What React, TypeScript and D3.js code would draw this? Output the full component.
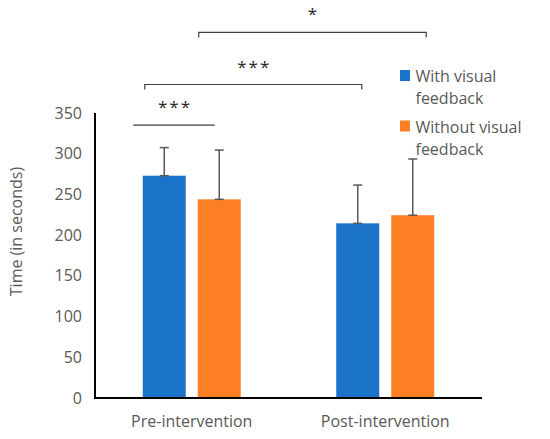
import React, { useRef, useEffect } from 'react';
import * as d3 from 'd3';

const categories = ['Pre-intervention', 'Post-intervention'];
const seriesNames = ['With visual feedback', 'Without visual feedback'];
const seriesLabels = [['With visual', 'feedback'], ['Without visual', 'feedback']];
const withFeedback = [273, 214.5];
const withoutFeedback = [244, 224.5];
const withFeedbackErr = [34.5, 47];
const withoutFeedbackErr = [60.5, 69];
const yTicks = [0, 50, 100, 150, 200, 250, 300, 350];
const colors = ['#1a73c9', '#fd7f23'];

// significance comparisons between [category, series] bars
const comparisons = [
  { from: [0, 0], to: [0, 1], label: '***', level: 335, ticks: false },
  { from: [0, 0], to: [1, 0], label: '***', level: 385, ticks: true },
  { from: [0, 1], to: [1, 1], label: '*', level: 449, ticks: true },
];

const App: React.FC = () => {
  const svgRef = useRef<SVGSVGElement>(null);

  useEffect(() => {
    const svg = d3.select(svgRef.current);
    svg.selectAll('*').remove();
    const font = "'Open Sans', sans-serif";
    const textColor = '#595959';

    const x0 = d3.scaleBand().domain(categories).range([95, 482]).paddingInner(0).paddingOuter(0);
    const y = d3.scaleLinear().domain([0, 350]).range([398, 113]);
    const barW = 43;
    const gap = 12;
    const barX = (ci: number, si: number) =>
      (x0(categories[ci]) as number) + x0.bandwidth() / 2 - gap / 2 - barW + si * (barW + gap);

    const values = [withFeedback, withoutFeedback];
    const errs = [withFeedbackErr, withoutFeedbackErr];

    // bars
    values.forEach((vals, si) => {
      svg.append('g')
        .selectAll('rect')
        .data(vals)
        .join('rect')
        .attr('x', (d, ci) => barX(ci, si))
        .attr('y', (d) => y(d))
        .attr('width', barW)
        .attr('height', (d) => y(0) - y(d))
        .attr('fill', colors[si]);
    });

    // error bars
    values.forEach((vals, si) => {
      vals.forEach((v, ci) => {
        const cx = barX(ci, si) + barW / 2;
        const top = y(v + errs[si][ci]);
        const g = svg.append('g').attr('stroke', '#595959').attr('stroke-width', 1.5);
        g.append('line').attr('x1', cx).attr('x2', cx).attr('y1', y(v)).attr('y2', top);
        g.append('line').attr('x1', cx - 4.5).attr('x2', cx + 4.5).attr('y1', top).attr('y2', top);
        g.append('line').attr('x1', cx - 4.5).attr('x2', cx + 4.5).attr('y1', y(v)).attr('y2', y(v));
      });
    });

    // axes
    svg.append('line').attr('x1', 95).attr('x2', 95).attr('y1', y(350)).attr('y2', y(0))
      .attr('stroke', '#000').attr('stroke-width', 2);
    svg.append('line').attr('x1', 94).attr('x2', 482).attr('y1', y(0)).attr('y2', y(0))
      .attr('stroke', '#000').attr('stroke-width', 2);

    svg.append('g')
      .selectAll('text')
      .data(yTicks)
      .join('text')
      .attr('x', 82)
      .attr('y', (d) => y(d))
      .attr('dy', '0.35em')
      .attr('text-anchor', 'end')
      .attr('font-family', font)
      .attr('font-size', 16)
      .attr('fill', textColor)
      .text((d) => d);

    svg.append('g')
      .selectAll('text')
      .data(categories)
      .join('text')
      .attr('x', (d) => (x0(d) as number) + x0.bandwidth() / 2)
      .attr('y', 427)
      .attr('text-anchor', 'middle')
      .attr('font-family', font)
      .attr('font-size', 16)
      .attr('fill', textColor)
      .text((d) => d);

    svg.append('text')
      .attr('transform', `translate(22,${(y(350) + y(0)) / 2 - 24}) rotate(-90)`)
      .attr('text-anchor', 'middle')
      .attr('font-family', font)
      .attr('font-size', 16)
      .attr('fill', textColor)
      .text('Time (in seconds)');

    // significance brackets
    const ends = [
      [-9.5, 17],
      [2, barW / 2 + 4],
      [1, barW - 8],
    ];
    comparisons.forEach((c, i) => {
      const xa = barX(c.from[0], c.from[1]) + ends[i][0];
      const xb = barX(c.to[0], c.to[1]) + ends[i][1];
      const ly = y(c.level);
      const path = c.ticks
        ? `M${xa},${ly + 5}V${ly}H${xb}V${ly + 5}`
        : `M${xa},${ly}H${xb}`;
      svg.append('path').attr('d', path).attr('fill', 'none')
        .attr('stroke', '#404040').attr('stroke-width', 1.2);
      svg.append('text')
        .attr('x', (xa + xb) / 2 + 1)
        .attr('y', ly - 12)
        .attr('text-anchor', 'middle')
        .attr('font-family', font)
        .attr('font-size', 17)
        .attr('letter-spacing', 2)
        .attr('fill', '#262626')
        .text(c.label);
    });

    // legend
    const legend = svg.append('g').attr('transform', 'translate(400,70)');
    seriesNames.forEach((name, i) => {
      const g = legend.append('g').attr('transform', `translate(0,${i * 50.5})`);
      g.append('rect').attr('width', 10).attr('height', 11).attr('fill', colors[i]);
      g.append('text')
        .attr('font-family', font)
        .attr('font-size', 16)
        .attr('fill', textColor)
        .selectAll('tspan')
        .data(seriesLabels[i])
        .join('tspan')
        .attr('x', 15.5)
        .attr('y', (d, j) => 12 + j * 22)
        .text((d) => d);
    });
  }, []);

  return (
    <div style={{ width: 550, height: 439, margin: -8 }}>
      <svg ref={svgRef} width={550} height={439} style={{ display: 'block', background: '#fff' }} />
    </div>
  );
};

export default App;
